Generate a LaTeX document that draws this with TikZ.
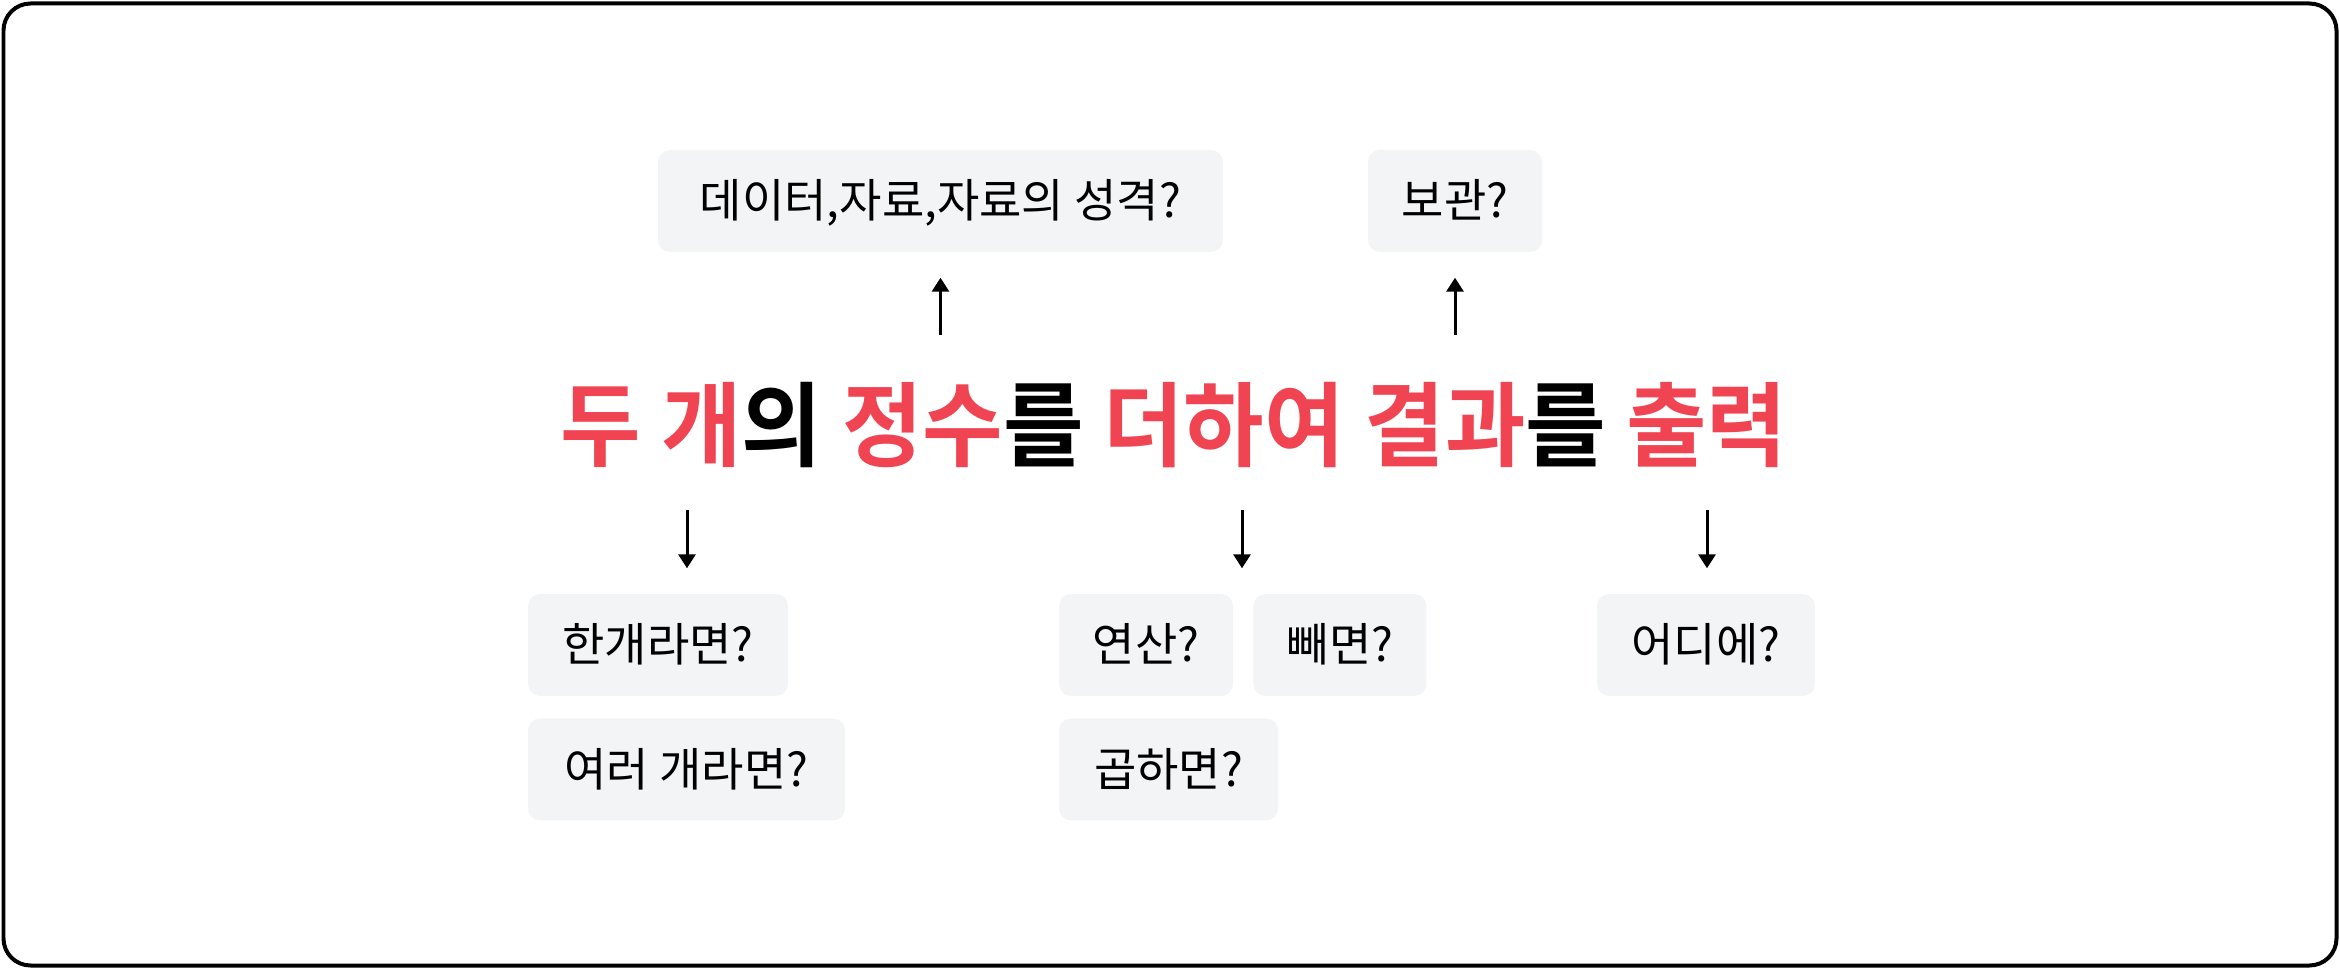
\documentclass[tikz,border=0pt]{standalone}
\usepackage{fontspec}
\setmainfont{Noto Sans CJK KR}
\newfontfamily\headfont{Noto Sans CJK KR}[FakeStretch=0.95, BoldFont={* Bold}]
\usepackage{tikz}
\usetikzlibrary{arrows.meta,positioning}
\definecolor{keyred}{RGB}{240,68,82}
\definecolor{boxgray}{RGB}{242,244,246}
\tikzstyle{qbox} = [fill=boxgray, rounded corners=0.12cm, inner sep=0pt,
    minimum height=1.02cm, text height=10.2pt, text depth=0.7pt,
    font=\fontsize{13.1pt}{15pt}\selectfont]
\tikzstyle{headline} = [inner sep=0pt,
    font=\headfont\bfseries\fontsize{26.2pt}{30pt}\selectfont]
\tikzstyle{pointer} = [-{Triangle[length=0.14cm,width=0.17cm]},
    line width=0.03cm, shorten >=0.25cm]

\begin{document}
\begin{tikzpicture}[node distance = 5cm]
  \useasboundingbox (0,0) rectangle (23.4,9.69);
  \draw [line width=0.04cm, rounded corners=0.27cm] (0.035,0.035) rectangle (23.365,9.655);
  % main sentence
  \node [headline] (goal) at (11.74,5.44) {\textcolor{keyred}{두 개}의 \textcolor{keyred}{정수}를 \textcolor{keyred}{더하여 결과}를 \textcolor{keyred}{출력}};
  % questions above
  \node [qbox, minimum width=5.65cm] (data) at (9.405,7.68) {데이터,자료,자료의 성격?};
  \node [qbox, minimum width=1.74cm, right of=data, node distance=5.145cm] (keep) {보관?};
  % questions below
  \node [qbox, minimum width=2.60cm] (one) at (6.58,3.24) {한개라면?};
  \node [qbox, minimum width=3.17cm, below=0.21cm of one.south west, anchor=north west] (many) {여러 개라면?};
  \node [qbox, minimum width=1.74cm] (calc) at (11.46,3.24) {연산?};
  \node [qbox, minimum width=1.73cm, right=0.19cm of calc] (minus) {빼면?};
  \node [qbox, minimum width=2.19cm, below=0.21cm of calc.south west, anchor=north west] (times) {곱하면?};
  \node [qbox, minimum width=2.18cm, right of=calc, node distance=5.60cm] (where) {어디에?};
  % arrow tails
  \coordinate (u1) at (9.405,6.34);
  \coordinate (u2) at (14.55,6.34);
  \coordinate (d1) at (6.87,4.59);
  \coordinate (d2) at (12.42,4.59);
  \coordinate (d3) at (17.07,4.59);
  \draw [pointer] (u1) -- (u1 |- data.south);
  \draw [pointer] (u2) -- (u2 |- keep.south);
  \draw [pointer] (d1) -- (d1 |- one.north);
  \draw [pointer] (d2) -- (d2 |- calc.north);
  \draw [pointer] (d3) -- (d3 |- where.north);
\end{tikzpicture}
\end{document}
